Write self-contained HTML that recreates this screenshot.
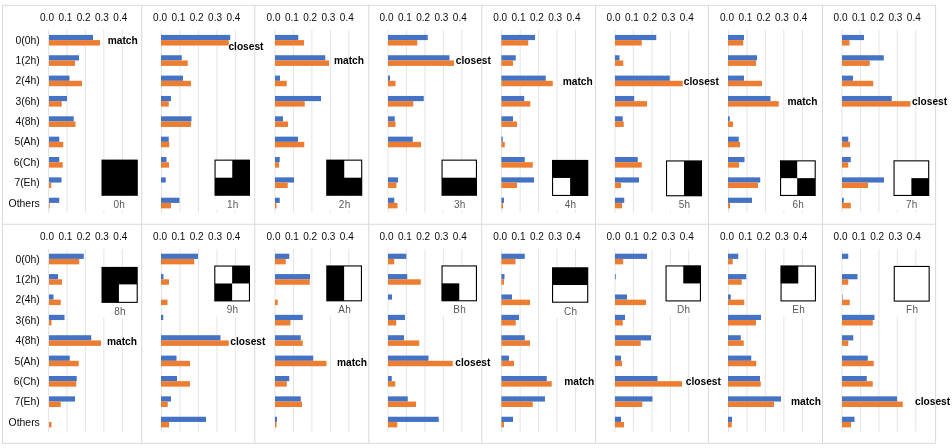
<!DOCTYPE html>
<html><head><meta charset="utf-8"><title>chart</title>
<style>
html,body{margin:0;padding:0;background:#fff;}
body{width:952px;height:448px;overflow:hidden;}
svg{display:block;font-family:"Liberation Sans",Arial,sans-serif;}
.ax{font-size:10px;fill:#0a0a0a;text-anchor:middle;}
.cat{font-size:10.4px;fill:#0a0a0a;text-anchor:end;}
.tl{font-size:10px;fill:#595959;text-anchor:middle;letter-spacing:0.3px;}
.ml{font-size:10.2px;font-weight:bold;fill:#000;}
</style></head><body>
<svg width="952" height="448" viewBox="0 0 952 448">
<rect x="0" y="0" width="952" height="448" fill="#fff"/>
<g fill="none" stroke="#D9D9D9" stroke-width="1">
<rect x="2.5" y="5.3" width="933.1" height="438.0"/>
<line x1="2.5" y1="224.25" x2="935.6" y2="224.25"/>
<line x1="141.75" y1="5.3" x2="141.75" y2="443.3"/>
<line x1="254.75" y1="5.3" x2="254.75" y2="443.3"/>
<line x1="368.75" y1="5.3" x2="368.75" y2="443.3"/>
<line x1="481.75" y1="5.3" x2="481.75" y2="443.3"/>
<line x1="595.5" y1="5.3" x2="595.5" y2="443.3"/>
<line x1="708.5" y1="5.3" x2="708.5" y2="443.3"/>
<line x1="822.5" y1="5.3" x2="822.5" y2="443.3"/>
</g>
<g>
<g stroke="#D9D9D9" stroke-width="0.7">
<line x1="48.50" y1="30.0" x2="48.50" y2="212.7"/>
<line x1="66.95" y1="30.0" x2="66.95" y2="212.7"/>
<line x1="85.40" y1="30.0" x2="85.40" y2="212.7"/>
<line x1="103.85" y1="30.0" x2="103.85" y2="212.7"/>
<line x1="122.30" y1="30.0" x2="122.30" y2="212.7"/>
</g>
<text class="ax" x="47.00" y="21.1">0.0</text>
<text class="ax" x="65.33" y="21.1">0.1</text>
<text class="ax" x="83.66" y="21.1">0.2</text>
<text class="ax" x="101.99" y="21.1">0.3</text>
<text class="ax" x="120.32" y="21.1">0.4</text>
<rect x="49.00" y="34.90" width="44.00" height="5.20" fill="#4472C4"/>
<rect x="49.00" y="40.10" width="51.00" height="5.45" fill="#ED7D31"/>
<rect x="49.00" y="55.25" width="30.00" height="5.20" fill="#4472C4"/>
<rect x="49.00" y="60.45" width="26.00" height="5.45" fill="#ED7D31"/>
<rect x="49.00" y="75.60" width="20.50" height="5.20" fill="#4472C4"/>
<rect x="49.00" y="80.80" width="33.00" height="5.45" fill="#ED7D31"/>
<rect x="49.00" y="95.95" width="18.00" height="5.20" fill="#4472C4"/>
<rect x="49.00" y="101.15" width="12.75" height="5.45" fill="#ED7D31"/>
<rect x="49.00" y="116.30" width="24.75" height="5.20" fill="#4472C4"/>
<rect x="49.00" y="121.50" width="26.50" height="5.45" fill="#ED7D31"/>
<rect x="49.00" y="136.65" width="10.25" height="5.20" fill="#4472C4"/>
<rect x="49.00" y="141.85" width="14.25" height="5.45" fill="#ED7D31"/>
<rect x="49.00" y="157.00" width="10.25" height="5.20" fill="#4472C4"/>
<rect x="49.00" y="162.20" width="13.75" height="5.45" fill="#ED7D31"/>
<rect x="49.00" y="177.35" width="12.50" height="5.20" fill="#4472C4"/>
<rect x="49.00" y="182.55" width="2.25" height="5.45" fill="#ED7D31"/>
<rect x="49.00" y="197.70" width="10.25" height="5.20" fill="#4472C4"/>
<rect x="49.00" y="202.90" width="0.75" height="5.45" fill="#ED7D31"/>
</g>
<g>
<g stroke="#D9D9D9" stroke-width="0.7">
<line x1="161.55" y1="30.0" x2="161.55" y2="212.7"/>
<line x1="180.00" y1="30.0" x2="180.00" y2="212.7"/>
<line x1="198.45" y1="30.0" x2="198.45" y2="212.7"/>
<line x1="216.90" y1="30.0" x2="216.90" y2="212.7"/>
<line x1="235.35" y1="30.0" x2="235.35" y2="212.7"/>
</g>
<text class="ax" x="160.05" y="21.1">0.0</text>
<text class="ax" x="178.38" y="21.1">0.1</text>
<text class="ax" x="196.71" y="21.1">0.2</text>
<text class="ax" x="215.04" y="21.1">0.3</text>
<text class="ax" x="233.37" y="21.1">0.4</text>
<rect x="161.00" y="34.90" width="69.25" height="5.20" fill="#4472C4"/>
<rect x="161.00" y="40.10" width="67.75" height="5.45" fill="#ED7D31"/>
<rect x="161.00" y="55.25" width="20.75" height="5.20" fill="#4472C4"/>
<rect x="161.00" y="60.45" width="26.75" height="5.45" fill="#ED7D31"/>
<rect x="161.00" y="75.60" width="22.00" height="5.20" fill="#4472C4"/>
<rect x="161.00" y="80.80" width="30.00" height="5.45" fill="#ED7D31"/>
<rect x="161.00" y="95.95" width="10.00" height="5.20" fill="#4472C4"/>
<rect x="161.00" y="101.15" width="7.75" height="5.45" fill="#ED7D31"/>
<rect x="161.00" y="116.30" width="30.50" height="5.20" fill="#4472C4"/>
<rect x="161.00" y="121.50" width="30.00" height="5.45" fill="#ED7D31"/>
<rect x="161.00" y="136.65" width="7.75" height="5.20" fill="#4472C4"/>
<rect x="161.00" y="141.85" width="8.25" height="5.45" fill="#ED7D31"/>
<rect x="161.00" y="157.00" width="5.50" height="5.20" fill="#4472C4"/>
<rect x="161.00" y="162.20" width="8.00" height="5.45" fill="#ED7D31"/>
<rect x="161.00" y="177.35" width="4.75" height="5.20" fill="#4472C4"/>
<rect x="161.00" y="197.70" width="18.50" height="5.20" fill="#4472C4"/>
<rect x="161.00" y="202.90" width="10.00" height="5.45" fill="#ED7D31"/>
</g>
<g>
<g stroke="#D9D9D9" stroke-width="0.7">
<line x1="275.00" y1="30.0" x2="275.00" y2="212.7"/>
<line x1="293.45" y1="30.0" x2="293.45" y2="212.7"/>
<line x1="311.90" y1="30.0" x2="311.90" y2="212.7"/>
<line x1="330.35" y1="30.0" x2="330.35" y2="212.7"/>
<line x1="348.80" y1="30.0" x2="348.80" y2="212.7"/>
</g>
<text class="ax" x="273.50" y="21.1">0.0</text>
<text class="ax" x="291.83" y="21.1">0.1</text>
<text class="ax" x="310.16" y="21.1">0.2</text>
<text class="ax" x="328.49" y="21.1">0.3</text>
<text class="ax" x="346.82" y="21.1">0.4</text>
<rect x="275.00" y="34.90" width="23.25" height="5.20" fill="#4472C4"/>
<rect x="275.00" y="40.10" width="29.00" height="5.45" fill="#ED7D31"/>
<rect x="275.00" y="55.25" width="50.25" height="5.20" fill="#4472C4"/>
<rect x="275.00" y="60.45" width="54.00" height="5.45" fill="#ED7D31"/>
<rect x="275.00" y="75.60" width="5.00" height="5.20" fill="#4472C4"/>
<rect x="275.00" y="80.80" width="11.75" height="5.45" fill="#ED7D31"/>
<rect x="275.00" y="95.95" width="46.00" height="5.20" fill="#4472C4"/>
<rect x="275.00" y="101.15" width="29.75" height="5.45" fill="#ED7D31"/>
<rect x="275.00" y="116.30" width="8.00" height="5.20" fill="#4472C4"/>
<rect x="275.00" y="121.50" width="13.00" height="5.45" fill="#ED7D31"/>
<rect x="275.00" y="136.65" width="23.00" height="5.20" fill="#4472C4"/>
<rect x="275.00" y="141.85" width="29.25" height="5.45" fill="#ED7D31"/>
<rect x="275.00" y="157.00" width="4.75" height="5.20" fill="#4472C4"/>
<rect x="275.00" y="162.20" width="4.00" height="5.45" fill="#ED7D31"/>
<rect x="275.00" y="177.35" width="19.00" height="5.20" fill="#4472C4"/>
<rect x="275.00" y="182.55" width="12.75" height="5.45" fill="#ED7D31"/>
<rect x="275.00" y="197.70" width="4.75" height="5.20" fill="#4472C4"/>
<rect x="275.00" y="202.90" width="1.50" height="5.45" fill="#ED7D31"/>
</g>
<g>
<g stroke="#D9D9D9" stroke-width="0.7">
<line x1="388.00" y1="30.0" x2="388.00" y2="212.7"/>
<line x1="406.45" y1="30.0" x2="406.45" y2="212.7"/>
<line x1="424.90" y1="30.0" x2="424.90" y2="212.7"/>
<line x1="443.35" y1="30.0" x2="443.35" y2="212.7"/>
<line x1="461.80" y1="30.0" x2="461.80" y2="212.7"/>
</g>
<text class="ax" x="386.50" y="21.1">0.0</text>
<text class="ax" x="404.83" y="21.1">0.1</text>
<text class="ax" x="423.16" y="21.1">0.2</text>
<text class="ax" x="441.49" y="21.1">0.3</text>
<text class="ax" x="459.82" y="21.1">0.4</text>
<rect x="388.00" y="34.90" width="39.75" height="5.20" fill="#4472C4"/>
<rect x="388.00" y="40.10" width="29.25" height="5.45" fill="#ED7D31"/>
<rect x="388.00" y="55.25" width="61.50" height="5.20" fill="#4472C4"/>
<rect x="388.00" y="60.45" width="66.00" height="5.45" fill="#ED7D31"/>
<rect x="388.00" y="75.60" width="2.00" height="5.20" fill="#4472C4"/>
<rect x="388.00" y="80.80" width="7.50" height="5.45" fill="#ED7D31"/>
<rect x="388.00" y="95.95" width="35.75" height="5.20" fill="#4472C4"/>
<rect x="388.00" y="101.15" width="25.25" height="5.45" fill="#ED7D31"/>
<rect x="388.00" y="116.30" width="6.75" height="5.20" fill="#4472C4"/>
<rect x="388.00" y="121.50" width="7.50" height="5.45" fill="#ED7D31"/>
<rect x="388.00" y="136.65" width="24.75" height="5.20" fill="#4472C4"/>
<rect x="388.00" y="141.85" width="33.00" height="5.45" fill="#ED7D31"/>
<rect x="388.00" y="177.35" width="10.00" height="5.20" fill="#4472C4"/>
<rect x="388.00" y="182.55" width="8.50" height="5.45" fill="#ED7D31"/>
<rect x="388.00" y="197.70" width="6.25" height="5.20" fill="#4472C4"/>
<rect x="388.00" y="202.90" width="9.50" height="5.45" fill="#ED7D31"/>
</g>
<g>
<g stroke="#D9D9D9" stroke-width="0.7">
<line x1="501.70" y1="30.0" x2="501.70" y2="212.7"/>
<line x1="520.15" y1="30.0" x2="520.15" y2="212.7"/>
<line x1="538.60" y1="30.0" x2="538.60" y2="212.7"/>
<line x1="557.05" y1="30.0" x2="557.05" y2="212.7"/>
<line x1="575.50" y1="30.0" x2="575.50" y2="212.7"/>
</g>
<text class="ax" x="500.20" y="21.1">0.0</text>
<text class="ax" x="518.53" y="21.1">0.1</text>
<text class="ax" x="536.86" y="21.1">0.2</text>
<text class="ax" x="555.19" y="21.1">0.3</text>
<text class="ax" x="573.52" y="21.1">0.4</text>
<rect x="501.40" y="34.90" width="33.60" height="5.20" fill="#4472C4"/>
<rect x="501.40" y="40.10" width="26.85" height="5.45" fill="#ED7D31"/>
<rect x="501.40" y="55.25" width="14.35" height="5.20" fill="#4472C4"/>
<rect x="501.40" y="60.45" width="11.60" height="5.45" fill="#ED7D31"/>
<rect x="501.40" y="75.60" width="44.35" height="5.20" fill="#4472C4"/>
<rect x="501.40" y="80.80" width="51.35" height="5.45" fill="#ED7D31"/>
<rect x="501.40" y="95.95" width="22.85" height="5.20" fill="#4472C4"/>
<rect x="501.40" y="101.15" width="28.85" height="5.45" fill="#ED7D31"/>
<rect x="501.40" y="116.30" width="11.60" height="5.20" fill="#4472C4"/>
<rect x="501.40" y="121.50" width="15.60" height="5.45" fill="#ED7D31"/>
<rect x="501.40" y="136.65" width="1.35" height="5.20" fill="#4472C4"/>
<rect x="501.40" y="141.85" width="3.35" height="5.45" fill="#ED7D31"/>
<rect x="501.40" y="157.00" width="23.35" height="5.20" fill="#4472C4"/>
<rect x="501.40" y="162.20" width="31.35" height="5.45" fill="#ED7D31"/>
<rect x="501.40" y="177.35" width="32.60" height="5.20" fill="#4472C4"/>
<rect x="501.40" y="182.55" width="15.60" height="5.45" fill="#ED7D31"/>
<rect x="501.40" y="197.70" width="2.60" height="5.20" fill="#4472C4"/>
<rect x="501.40" y="202.90" width="1.60" height="5.45" fill="#ED7D31"/>
</g>
<g>
<g stroke="#D9D9D9" stroke-width="0.7">
<line x1="615.00" y1="30.0" x2="615.00" y2="212.7"/>
<line x1="633.45" y1="30.0" x2="633.45" y2="212.7"/>
<line x1="651.90" y1="30.0" x2="651.90" y2="212.7"/>
<line x1="670.35" y1="30.0" x2="670.35" y2="212.7"/>
<line x1="688.80" y1="30.0" x2="688.80" y2="212.7"/>
</g>
<text class="ax" x="613.50" y="21.1">0.0</text>
<text class="ax" x="631.83" y="21.1">0.1</text>
<text class="ax" x="650.16" y="21.1">0.2</text>
<text class="ax" x="668.49" y="21.1">0.3</text>
<text class="ax" x="686.82" y="21.1">0.4</text>
<rect x="615.00" y="34.90" width="41.25" height="5.20" fill="#4472C4"/>
<rect x="615.00" y="40.10" width="26.75" height="5.45" fill="#ED7D31"/>
<rect x="615.00" y="55.25" width="4.50" height="5.20" fill="#4472C4"/>
<rect x="615.00" y="60.45" width="8.25" height="5.45" fill="#ED7D31"/>
<rect x="615.00" y="75.60" width="54.75" height="5.20" fill="#4472C4"/>
<rect x="615.00" y="80.80" width="67.75" height="5.45" fill="#ED7D31"/>
<rect x="615.00" y="95.95" width="19.25" height="5.20" fill="#4472C4"/>
<rect x="615.00" y="101.15" width="32.00" height="5.45" fill="#ED7D31"/>
<rect x="615.00" y="116.30" width="7.75" height="5.20" fill="#4472C4"/>
<rect x="615.00" y="121.50" width="8.75" height="5.45" fill="#ED7D31"/>
<rect x="615.00" y="157.00" width="22.75" height="5.20" fill="#4472C4"/>
<rect x="615.00" y="162.20" width="26.75" height="5.45" fill="#ED7D31"/>
<rect x="615.00" y="177.35" width="24.00" height="5.20" fill="#4472C4"/>
<rect x="615.00" y="182.55" width="6.00" height="5.45" fill="#ED7D31"/>
<rect x="615.00" y="197.70" width="9.25" height="5.20" fill="#4472C4"/>
<rect x="615.00" y="202.90" width="7.00" height="5.45" fill="#ED7D31"/>
</g>
<g>
<g stroke="#D9D9D9" stroke-width="0.7">
<line x1="728.50" y1="30.0" x2="728.50" y2="212.7"/>
<line x1="746.95" y1="30.0" x2="746.95" y2="212.7"/>
<line x1="765.40" y1="30.0" x2="765.40" y2="212.7"/>
<line x1="783.85" y1="30.0" x2="783.85" y2="212.7"/>
<line x1="802.30" y1="30.0" x2="802.30" y2="212.7"/>
</g>
<text class="ax" x="727.00" y="21.1">0.0</text>
<text class="ax" x="745.33" y="21.1">0.1</text>
<text class="ax" x="763.66" y="21.1">0.2</text>
<text class="ax" x="781.99" y="21.1">0.3</text>
<text class="ax" x="800.32" y="21.1">0.4</text>
<rect x="728.00" y="34.90" width="16.00" height="5.20" fill="#4472C4"/>
<rect x="728.00" y="40.10" width="15.25" height="5.45" fill="#ED7D31"/>
<rect x="728.00" y="55.25" width="29.00" height="5.20" fill="#4472C4"/>
<rect x="728.00" y="60.45" width="28.00" height="5.45" fill="#ED7D31"/>
<rect x="728.00" y="75.60" width="16.00" height="5.20" fill="#4472C4"/>
<rect x="728.00" y="80.80" width="34.00" height="5.45" fill="#ED7D31"/>
<rect x="728.00" y="95.95" width="42.50" height="5.20" fill="#4472C4"/>
<rect x="728.00" y="101.15" width="50.75" height="5.45" fill="#ED7D31"/>
<rect x="728.00" y="116.30" width="1.75" height="5.20" fill="#4472C4"/>
<rect x="728.00" y="121.50" width="5.00" height="5.45" fill="#ED7D31"/>
<rect x="728.00" y="136.65" width="10.75" height="5.20" fill="#4472C4"/>
<rect x="728.00" y="141.85" width="12.00" height="5.45" fill="#ED7D31"/>
<rect x="728.00" y="157.00" width="16.50" height="5.20" fill="#4472C4"/>
<rect x="728.00" y="162.20" width="11.00" height="5.45" fill="#ED7D31"/>
<rect x="728.00" y="177.35" width="32.25" height="5.20" fill="#4472C4"/>
<rect x="728.00" y="182.55" width="30.00" height="5.45" fill="#ED7D31"/>
<rect x="728.00" y="197.70" width="24.00" height="5.20" fill="#4472C4"/>
<rect x="728.00" y="202.90" width="2.00" height="5.45" fill="#ED7D31"/>
</g>
<g>
<g stroke="#D9D9D9" stroke-width="0.7">
<line x1="842.00" y1="30.0" x2="842.00" y2="212.7"/>
<line x1="860.45" y1="30.0" x2="860.45" y2="212.7"/>
<line x1="878.90" y1="30.0" x2="878.90" y2="212.7"/>
<line x1="897.35" y1="30.0" x2="897.35" y2="212.7"/>
<line x1="915.80" y1="30.0" x2="915.80" y2="212.7"/>
</g>
<text class="ax" x="840.50" y="21.1">0.0</text>
<text class="ax" x="858.83" y="21.1">0.1</text>
<text class="ax" x="877.16" y="21.1">0.2</text>
<text class="ax" x="895.49" y="21.1">0.3</text>
<text class="ax" x="913.82" y="21.1">0.4</text>
<rect x="842.00" y="34.90" width="22.00" height="5.20" fill="#4472C4"/>
<rect x="842.00" y="40.10" width="7.50" height="5.45" fill="#ED7D31"/>
<rect x="842.00" y="55.25" width="41.75" height="5.20" fill="#4472C4"/>
<rect x="842.00" y="60.45" width="27.75" height="5.45" fill="#ED7D31"/>
<rect x="842.00" y="75.60" width="11.00" height="5.20" fill="#4472C4"/>
<rect x="842.00" y="80.80" width="31.25" height="5.45" fill="#ED7D31"/>
<rect x="842.00" y="95.95" width="49.75" height="5.20" fill="#4472C4"/>
<rect x="842.00" y="101.15" width="68.50" height="5.45" fill="#ED7D31"/>
<rect x="842.00" y="136.65" width="6.25" height="5.20" fill="#4472C4"/>
<rect x="842.00" y="141.85" width="8.00" height="5.45" fill="#ED7D31"/>
<rect x="842.00" y="157.00" width="8.75" height="5.20" fill="#4472C4"/>
<rect x="842.00" y="162.20" width="6.25" height="5.45" fill="#ED7D31"/>
<rect x="842.00" y="177.35" width="42.00" height="5.20" fill="#4472C4"/>
<rect x="842.00" y="182.55" width="26.00" height="5.45" fill="#ED7D31"/>
<rect x="842.00" y="197.70" width="1.75" height="5.20" fill="#4472C4"/>
<rect x="842.00" y="202.90" width="8.80" height="5.45" fill="#ED7D31"/>
</g>
<g>
<g stroke="#D9D9D9" stroke-width="0.7">
<line x1="48.50" y1="249.0" x2="48.50" y2="431.8"/>
<line x1="66.95" y1="249.0" x2="66.95" y2="431.8"/>
<line x1="85.40" y1="249.0" x2="85.40" y2="431.8"/>
<line x1="103.85" y1="249.0" x2="103.85" y2="431.8"/>
<line x1="122.30" y1="249.0" x2="122.30" y2="431.8"/>
</g>
<text class="ax" x="47.00" y="240.4">0.0</text>
<text class="ax" x="65.33" y="240.4">0.1</text>
<text class="ax" x="83.66" y="240.4">0.2</text>
<text class="ax" x="101.99" y="240.4">0.3</text>
<text class="ax" x="120.32" y="240.4">0.4</text>
<rect x="49.00" y="253.70" width="34.75" height="5.20" fill="#4472C4"/>
<rect x="49.00" y="258.90" width="30.25" height="5.45" fill="#ED7D31"/>
<rect x="49.00" y="274.08" width="9.00" height="5.20" fill="#4472C4"/>
<rect x="49.00" y="279.28" width="13.00" height="5.45" fill="#ED7D31"/>
<rect x="49.00" y="294.46" width="4.50" height="5.20" fill="#4472C4"/>
<rect x="49.00" y="299.66" width="11.75" height="5.45" fill="#ED7D31"/>
<rect x="49.00" y="314.84" width="15.50" height="5.20" fill="#4472C4"/>
<rect x="49.00" y="320.04" width="2.50" height="5.45" fill="#ED7D31"/>
<rect x="49.00" y="335.22" width="42.25" height="5.20" fill="#4472C4"/>
<rect x="49.00" y="340.42" width="52.00" height="5.45" fill="#ED7D31"/>
<rect x="49.00" y="355.60" width="20.75" height="5.20" fill="#4472C4"/>
<rect x="49.00" y="360.80" width="29.75" height="5.45" fill="#ED7D31"/>
<rect x="49.00" y="375.98" width="27.75" height="5.20" fill="#4472C4"/>
<rect x="49.00" y="381.18" width="27.25" height="5.45" fill="#ED7D31"/>
<rect x="49.00" y="396.36" width="26.00" height="5.20" fill="#4472C4"/>
<rect x="49.00" y="401.56" width="11.75" height="5.45" fill="#ED7D31"/>
<rect x="49.00" y="421.94" width="2.50" height="5.45" fill="#ED7D31"/>
</g>
<g>
<g stroke="#D9D9D9" stroke-width="0.7">
<line x1="161.55" y1="249.0" x2="161.55" y2="431.8"/>
<line x1="180.00" y1="249.0" x2="180.00" y2="431.8"/>
<line x1="198.45" y1="249.0" x2="198.45" y2="431.8"/>
<line x1="216.90" y1="249.0" x2="216.90" y2="431.8"/>
<line x1="235.35" y1="249.0" x2="235.35" y2="431.8"/>
</g>
<text class="ax" x="160.05" y="240.4">0.0</text>
<text class="ax" x="178.38" y="240.4">0.1</text>
<text class="ax" x="196.71" y="240.4">0.2</text>
<text class="ax" x="215.04" y="240.4">0.3</text>
<text class="ax" x="233.37" y="240.4">0.4</text>
<rect x="161.00" y="253.70" width="37.00" height="5.20" fill="#4472C4"/>
<rect x="161.00" y="258.90" width="33.25" height="5.45" fill="#ED7D31"/>
<rect x="161.00" y="274.08" width="2.50" height="5.20" fill="#4472C4"/>
<rect x="161.00" y="279.28" width="8.00" height="5.45" fill="#ED7D31"/>
<rect x="161.00" y="299.66" width="6.50" height="5.45" fill="#ED7D31"/>
<rect x="161.00" y="314.84" width="2.25" height="5.20" fill="#4472C4"/>
<rect x="161.00" y="335.22" width="59.50" height="5.20" fill="#4472C4"/>
<rect x="161.00" y="340.42" width="67.75" height="5.45" fill="#ED7D31"/>
<rect x="161.00" y="355.60" width="15.50" height="5.20" fill="#4472C4"/>
<rect x="161.00" y="360.80" width="29.00" height="5.45" fill="#ED7D31"/>
<rect x="161.00" y="375.98" width="16.00" height="5.20" fill="#4472C4"/>
<rect x="161.00" y="381.18" width="29.00" height="5.45" fill="#ED7D31"/>
<rect x="161.00" y="396.36" width="10.00" height="5.20" fill="#4472C4"/>
<rect x="161.00" y="401.56" width="6.75" height="5.45" fill="#ED7D31"/>
<rect x="161.00" y="416.74" width="45.00" height="5.20" fill="#4472C4"/>
<rect x="161.00" y="421.94" width="8.00" height="5.45" fill="#ED7D31"/>
</g>
<g>
<g stroke="#D9D9D9" stroke-width="0.7">
<line x1="275.00" y1="249.0" x2="275.00" y2="431.8"/>
<line x1="293.45" y1="249.0" x2="293.45" y2="431.8"/>
<line x1="311.90" y1="249.0" x2="311.90" y2="431.8"/>
<line x1="330.35" y1="249.0" x2="330.35" y2="431.8"/>
<line x1="348.80" y1="249.0" x2="348.80" y2="431.8"/>
</g>
<text class="ax" x="273.50" y="240.4">0.0</text>
<text class="ax" x="291.83" y="240.4">0.1</text>
<text class="ax" x="310.16" y="240.4">0.2</text>
<text class="ax" x="328.49" y="240.4">0.3</text>
<text class="ax" x="346.82" y="240.4">0.4</text>
<rect x="275.00" y="253.70" width="14.25" height="5.20" fill="#4472C4"/>
<rect x="275.00" y="258.90" width="10.75" height="5.45" fill="#ED7D31"/>
<rect x="275.00" y="274.08" width="35.00" height="5.20" fill="#4472C4"/>
<rect x="275.00" y="279.28" width="34.75" height="5.45" fill="#ED7D31"/>
<rect x="275.00" y="299.66" width="2.75" height="5.45" fill="#ED7D31"/>
<rect x="275.00" y="314.84" width="27.75" height="5.20" fill="#4472C4"/>
<rect x="275.00" y="320.04" width="15.50" height="5.45" fill="#ED7D31"/>
<rect x="275.00" y="335.22" width="25.75" height="5.20" fill="#4472C4"/>
<rect x="275.00" y="340.42" width="27.75" height="5.45" fill="#ED7D31"/>
<rect x="275.00" y="355.60" width="38.25" height="5.20" fill="#4472C4"/>
<rect x="275.00" y="360.80" width="51.50" height="5.45" fill="#ED7D31"/>
<rect x="275.00" y="375.98" width="14.25" height="5.20" fill="#4472C4"/>
<rect x="275.00" y="381.18" width="11.75" height="5.45" fill="#ED7D31"/>
<rect x="275.00" y="396.36" width="25.75" height="5.20" fill="#4472C4"/>
<rect x="275.00" y="401.56" width="27.00" height="5.45" fill="#ED7D31"/>
<rect x="275.00" y="416.74" width="2.00" height="5.20" fill="#4472C4"/>
<rect x="275.00" y="421.94" width="1.50" height="5.45" fill="#ED7D31"/>
</g>
<g>
<g stroke="#D9D9D9" stroke-width="0.7">
<line x1="388.00" y1="249.0" x2="388.00" y2="431.8"/>
<line x1="406.45" y1="249.0" x2="406.45" y2="431.8"/>
<line x1="424.90" y1="249.0" x2="424.90" y2="431.8"/>
<line x1="443.35" y1="249.0" x2="443.35" y2="431.8"/>
<line x1="461.80" y1="249.0" x2="461.80" y2="431.8"/>
</g>
<text class="ax" x="386.50" y="240.4">0.0</text>
<text class="ax" x="404.83" y="240.4">0.1</text>
<text class="ax" x="423.16" y="240.4">0.2</text>
<text class="ax" x="441.49" y="240.4">0.3</text>
<text class="ax" x="459.82" y="240.4">0.4</text>
<rect x="388.00" y="253.70" width="18.25" height="5.20" fill="#4472C4"/>
<rect x="388.00" y="258.90" width="6.25" height="5.45" fill="#ED7D31"/>
<rect x="388.00" y="274.08" width="19.25" height="5.20" fill="#4472C4"/>
<rect x="388.00" y="279.28" width="32.75" height="5.45" fill="#ED7D31"/>
<rect x="388.00" y="294.46" width="4.00" height="5.20" fill="#4472C4"/>
<rect x="388.00" y="314.84" width="17.00" height="5.20" fill="#4472C4"/>
<rect x="388.00" y="320.04" width="8.25" height="5.45" fill="#ED7D31"/>
<rect x="388.00" y="335.22" width="16.00" height="5.20" fill="#4472C4"/>
<rect x="388.00" y="340.42" width="31.25" height="5.45" fill="#ED7D31"/>
<rect x="388.00" y="355.60" width="40.50" height="5.20" fill="#4472C4"/>
<rect x="388.00" y="360.80" width="64.75" height="5.45" fill="#ED7D31"/>
<rect x="388.00" y="375.98" width="3.75" height="5.20" fill="#4472C4"/>
<rect x="388.00" y="381.18" width="7.25" height="5.45" fill="#ED7D31"/>
<rect x="388.00" y="396.36" width="19.75" height="5.20" fill="#4472C4"/>
<rect x="388.00" y="401.56" width="28.00" height="5.45" fill="#ED7D31"/>
<rect x="388.00" y="416.74" width="50.75" height="5.20" fill="#4472C4"/>
<rect x="388.00" y="421.94" width="9.25" height="5.45" fill="#ED7D31"/>
</g>
<g>
<g stroke="#D9D9D9" stroke-width="0.7">
<line x1="501.70" y1="249.0" x2="501.70" y2="431.8"/>
<line x1="520.15" y1="249.0" x2="520.15" y2="431.8"/>
<line x1="538.60" y1="249.0" x2="538.60" y2="431.8"/>
<line x1="557.05" y1="249.0" x2="557.05" y2="431.8"/>
<line x1="575.50" y1="249.0" x2="575.50" y2="431.8"/>
</g>
<text class="ax" x="500.20" y="240.4">0.0</text>
<text class="ax" x="518.53" y="240.4">0.1</text>
<text class="ax" x="536.86" y="240.4">0.2</text>
<text class="ax" x="555.19" y="240.4">0.3</text>
<text class="ax" x="573.52" y="240.4">0.4</text>
<rect x="501.40" y="253.70" width="23.35" height="5.20" fill="#4472C4"/>
<rect x="501.40" y="258.90" width="14.10" height="5.45" fill="#ED7D31"/>
<rect x="501.40" y="274.08" width="3.10" height="5.20" fill="#4472C4"/>
<rect x="501.40" y="279.28" width="2.60" height="5.45" fill="#ED7D31"/>
<rect x="501.40" y="294.46" width="10.60" height="5.20" fill="#4472C4"/>
<rect x="501.40" y="299.66" width="28.60" height="5.45" fill="#ED7D31"/>
<rect x="501.40" y="314.84" width="17.60" height="5.20" fill="#4472C4"/>
<rect x="501.40" y="320.04" width="14.35" height="5.45" fill="#ED7D31"/>
<rect x="501.40" y="335.22" width="23.35" height="5.20" fill="#4472C4"/>
<rect x="501.40" y="340.42" width="28.60" height="5.45" fill="#ED7D31"/>
<rect x="501.40" y="355.60" width="7.60" height="5.20" fill="#4472C4"/>
<rect x="501.40" y="360.80" width="12.60" height="5.45" fill="#ED7D31"/>
<rect x="501.40" y="375.98" width="45.35" height="5.20" fill="#4472C4"/>
<rect x="501.40" y="381.18" width="50.35" height="5.45" fill="#ED7D31"/>
<rect x="501.40" y="396.36" width="43.60" height="5.20" fill="#4472C4"/>
<rect x="501.40" y="401.56" width="31.35" height="5.45" fill="#ED7D31"/>
<rect x="501.40" y="416.74" width="11.60" height="5.20" fill="#4472C4"/>
<rect x="501.40" y="421.94" width="2.60" height="5.45" fill="#ED7D31"/>
</g>
<g>
<g stroke="#D9D9D9" stroke-width="0.7">
<line x1="615.00" y1="249.0" x2="615.00" y2="431.8"/>
<line x1="633.45" y1="249.0" x2="633.45" y2="431.8"/>
<line x1="651.90" y1="249.0" x2="651.90" y2="431.8"/>
<line x1="670.35" y1="249.0" x2="670.35" y2="431.8"/>
<line x1="688.80" y1="249.0" x2="688.80" y2="431.8"/>
</g>
<text class="ax" x="613.50" y="240.4">0.0</text>
<text class="ax" x="631.83" y="240.4">0.1</text>
<text class="ax" x="650.16" y="240.4">0.2</text>
<text class="ax" x="668.49" y="240.4">0.3</text>
<text class="ax" x="686.82" y="240.4">0.4</text>
<rect x="615.00" y="253.70" width="32.00" height="5.20" fill="#4472C4"/>
<rect x="615.00" y="258.90" width="8.25" height="5.45" fill="#ED7D31"/>
<rect x="615.00" y="274.08" width="0.75" height="5.20" fill="#4472C4"/>
<rect x="615.00" y="294.46" width="12.00" height="5.20" fill="#4472C4"/>
<rect x="615.00" y="299.66" width="31.00" height="5.45" fill="#ED7D31"/>
<rect x="615.00" y="314.84" width="10.00" height="5.20" fill="#4472C4"/>
<rect x="615.00" y="320.04" width="7.75" height="5.45" fill="#ED7D31"/>
<rect x="615.00" y="335.22" width="36.00" height="5.20" fill="#4472C4"/>
<rect x="615.00" y="340.42" width="25.75" height="5.45" fill="#ED7D31"/>
<rect x="615.00" y="355.60" width="6.00" height="5.20" fill="#4472C4"/>
<rect x="615.00" y="360.80" width="7.00" height="5.45" fill="#ED7D31"/>
<rect x="615.00" y="375.98" width="42.50" height="5.20" fill="#4472C4"/>
<rect x="615.00" y="381.18" width="67.00" height="5.45" fill="#ED7D31"/>
<rect x="615.00" y="396.36" width="37.50" height="5.20" fill="#4472C4"/>
<rect x="615.00" y="401.56" width="27.25" height="5.45" fill="#ED7D31"/>
<rect x="615.00" y="416.74" width="6.00" height="5.20" fill="#4472C4"/>
<rect x="615.00" y="421.94" width="9.00" height="5.45" fill="#ED7D31"/>
</g>
<g>
<g stroke="#D9D9D9" stroke-width="0.7">
<line x1="728.50" y1="249.0" x2="728.50" y2="431.8"/>
<line x1="746.95" y1="249.0" x2="746.95" y2="431.8"/>
<line x1="765.40" y1="249.0" x2="765.40" y2="431.8"/>
<line x1="783.85" y1="249.0" x2="783.85" y2="431.8"/>
<line x1="802.30" y1="249.0" x2="802.30" y2="431.8"/>
</g>
<text class="ax" x="727.00" y="240.4">0.0</text>
<text class="ax" x="745.33" y="240.4">0.1</text>
<text class="ax" x="763.66" y="240.4">0.2</text>
<text class="ax" x="781.99" y="240.4">0.3</text>
<text class="ax" x="800.32" y="240.4">0.4</text>
<rect x="728.00" y="253.70" width="10.25" height="5.20" fill="#4472C4"/>
<rect x="728.00" y="258.90" width="4.75" height="5.45" fill="#ED7D31"/>
<rect x="728.00" y="274.08" width="18.25" height="5.20" fill="#4472C4"/>
<rect x="728.00" y="279.28" width="13.75" height="5.45" fill="#ED7D31"/>
<rect x="728.00" y="294.46" width="2.75" height="5.20" fill="#4472C4"/>
<rect x="728.00" y="299.66" width="16.25" height="5.45" fill="#ED7D31"/>
<rect x="728.00" y="314.84" width="33.00" height="5.20" fill="#4472C4"/>
<rect x="728.00" y="320.04" width="28.00" height="5.45" fill="#ED7D31"/>
<rect x="728.00" y="335.22" width="12.75" height="5.20" fill="#4472C4"/>
<rect x="728.00" y="340.42" width="15.75" height="5.45" fill="#ED7D31"/>
<rect x="728.00" y="355.60" width="23.25" height="5.20" fill="#4472C4"/>
<rect x="728.00" y="360.80" width="28.25" height="5.45" fill="#ED7D31"/>
<rect x="728.00" y="375.98" width="32.00" height="5.20" fill="#4472C4"/>
<rect x="728.00" y="381.18" width="32.75" height="5.45" fill="#ED7D31"/>
<rect x="728.00" y="396.36" width="53.00" height="5.20" fill="#4472C4"/>
<rect x="728.00" y="401.56" width="46.00" height="5.45" fill="#ED7D31"/>
<rect x="728.00" y="416.74" width="4.00" height="5.20" fill="#4472C4"/>
<rect x="728.00" y="421.94" width="3.75" height="5.45" fill="#ED7D31"/>
</g>
<g>
<g stroke="#D9D9D9" stroke-width="0.7">
<line x1="842.00" y1="249.0" x2="842.00" y2="431.8"/>
<line x1="860.45" y1="249.0" x2="860.45" y2="431.8"/>
<line x1="878.90" y1="249.0" x2="878.90" y2="431.8"/>
<line x1="897.35" y1="249.0" x2="897.35" y2="431.8"/>
<line x1="915.80" y1="249.0" x2="915.80" y2="431.8"/>
</g>
<text class="ax" x="840.50" y="240.4">0.0</text>
<text class="ax" x="858.83" y="240.4">0.1</text>
<text class="ax" x="877.16" y="240.4">0.2</text>
<text class="ax" x="895.49" y="240.4">0.3</text>
<text class="ax" x="913.82" y="240.4">0.4</text>
<rect x="842.00" y="253.70" width="6.25" height="5.20" fill="#4472C4"/>
<rect x="842.00" y="274.08" width="15.50" height="5.20" fill="#4472C4"/>
<rect x="842.00" y="279.28" width="6.25" height="5.45" fill="#ED7D31"/>
<rect x="842.00" y="294.46" width="0.50" height="5.20" fill="#4472C4"/>
<rect x="842.00" y="299.66" width="7.75" height="5.45" fill="#ED7D31"/>
<rect x="842.00" y="314.84" width="32.50" height="5.20" fill="#4472C4"/>
<rect x="842.00" y="320.04" width="30.75" height="5.45" fill="#ED7D31"/>
<rect x="842.00" y="335.22" width="11.25" height="5.20" fill="#4472C4"/>
<rect x="842.00" y="340.42" width="6.25" height="5.45" fill="#ED7D31"/>
<rect x="842.00" y="355.60" width="25.75" height="5.20" fill="#4472C4"/>
<rect x="842.00" y="360.80" width="31.75" height="5.45" fill="#ED7D31"/>
<rect x="842.00" y="375.98" width="24.75" height="5.20" fill="#4472C4"/>
<rect x="842.00" y="381.18" width="30.75" height="5.45" fill="#ED7D31"/>
<rect x="842.00" y="396.36" width="55.00" height="5.20" fill="#4472C4"/>
<rect x="842.00" y="401.56" width="60.75" height="5.45" fill="#ED7D31"/>
<rect x="842.00" y="416.74" width="12.50" height="5.20" fill="#4472C4"/>
<rect x="842.00" y="421.94" width="9.00" height="5.45" fill="#ED7D31"/>
</g>
<text class="cat" x="39.8" y="43.70">0(0h)</text>
<text class="cat" x="39.8" y="64.05">1(2h)</text>
<text class="cat" x="39.8" y="84.40">2(4h)</text>
<text class="cat" x="39.8" y="104.75">3(6h)</text>
<text class="cat" x="39.8" y="125.10">4(8h)</text>
<text class="cat" x="39.8" y="145.45">5(Ah)</text>
<text class="cat" x="39.8" y="165.80">6(Ch)</text>
<text class="cat" x="39.8" y="186.15">7(Eh)</text>
<text class="cat" x="39.8" y="206.50">Others</text>
<text class="cat" x="39.8" y="262.70">0(0h)</text>
<text class="cat" x="39.8" y="283.08">1(2h)</text>
<text class="cat" x="39.8" y="303.46">2(4h)</text>
<text class="cat" x="39.8" y="323.84">3(6h)</text>
<text class="cat" x="39.8" y="344.22">4(8h)</text>
<text class="cat" x="39.8" y="364.60">5(Ah)</text>
<text class="cat" x="39.8" y="384.98">6(Ch)</text>
<text class="cat" x="39.8" y="405.36">7(Eh)</text>
<text class="cat" x="39.8" y="425.74">Others</text>
<rect x="100.50" y="195.80" width="38.30" height="14.0" fill="#fff"/>
<rect x="101.50" y="159.60" width="36.30" height="36.20" fill="#000"/>
<text class="tl" x="119.35" y="207.95">0h</text>
<rect x="213.50" y="195.80" width="37.50" height="14.0" fill="#fff"/>
<rect x="214.50" y="159.60" width="35.50" height="36.20" fill="#000"/>
<rect x="215.60" y="160.70" width="16.65" height="17.00" fill="#fff"/>
<text class="tl" x="232.75" y="207.95">1h</text>
<rect x="325.20" y="195.80" width="38.05" height="14.0" fill="#fff"/>
<rect x="326.20" y="159.60" width="36.05" height="36.20" fill="#000"/>
<rect x="344.23" y="160.70" width="16.92" height="17.00" fill="#fff"/>
<text class="tl" x="344.73" y="207.95">2h</text>
<rect x="440.50" y="195.80" width="37.50" height="14.0" fill="#fff"/>
<rect x="441.50" y="159.60" width="35.50" height="36.20" fill="#000"/>
<rect x="442.60" y="160.70" width="33.30" height="17.00" fill="#fff"/>
<text class="tl" x="459.75" y="207.95">3h</text>
<rect x="551.00" y="196.00" width="38.25" height="14.0" fill="#fff"/>
<rect x="552.00" y="159.90" width="36.25" height="36.10" fill="#000"/>
<rect x="553.10" y="177.95" width="17.02" height="16.95" fill="#fff"/>
<text class="tl" x="570.62" y="207.95">4h</text>
<rect x="665.00" y="196.30" width="38.00" height="14.0" fill="#fff"/>
<rect x="666.00" y="160.40" width="36.00" height="35.90" fill="#000"/>
<rect x="667.10" y="161.50" width="16.90" height="33.70" fill="#fff"/>
<text class="tl" x="684.50" y="207.95">5h</text>
<rect x="779.00" y="196.00" width="37.75" height="14.0" fill="#fff"/>
<rect x="780.00" y="160.30" width="35.75" height="35.70" fill="#000"/>
<rect x="781.10" y="178.15" width="16.07" height="16.75" fill="#fff"/>
<rect x="797.17" y="161.40" width="17.48" height="16.75" fill="#fff"/>
<text class="tl" x="798.38" y="207.95">6h</text>
<rect x="892.50" y="196.00" width="37.75" height="14.0" fill="#fff"/>
<rect x="893.50" y="160.30" width="35.75" height="35.70" fill="#000"/>
<rect x="894.60" y="161.40" width="33.55" height="33.50" fill="#fff"/>
<rect x="911.38" y="178.15" width="17.58" height="17.55" fill="#000"/>
<text class="tl" x="911.88" y="207.95">7h</text>
<rect x="100.50" y="302.90" width="38.25" height="15.0" fill="#fff"/>
<rect x="101.50" y="266.90" width="36.25" height="36.00" fill="#000"/>
<rect x="118.92" y="284.40" width="17.73" height="17.40" fill="#fff"/>
<text class="tl" x="120.12" y="315.20">8h</text>
<rect x="213.25" y="301.45" width="37.75" height="15.0" fill="#fff"/>
<rect x="214.25" y="265.50" width="35.75" height="35.95" fill="#000"/>
<rect x="232.12" y="283.48" width="16.78" height="16.87" fill="#fff"/>
<rect x="215.35" y="266.60" width="16.78" height="16.88" fill="#fff"/>
<text class="tl" x="232.62" y="312.90">9h</text>
<rect x="325.25" y="301.35" width="37.75" height="15.0" fill="#fff"/>
<rect x="326.25" y="265.40" width="35.75" height="35.95" fill="#000"/>
<rect x="344.12" y="266.50" width="16.77" height="33.75" fill="#fff"/>
<text class="tl" x="344.62" y="312.80">Ah</text>
<rect x="440.50" y="301.30" width="37.50" height="15.0" fill="#fff"/>
<rect x="441.50" y="265.40" width="35.50" height="35.90" fill="#000"/>
<rect x="442.60" y="266.50" width="33.30" height="33.70" fill="#fff"/>
<rect x="441.80" y="283.35" width="17.45" height="17.65" fill="#000"/>
<text class="tl" x="459.75" y="312.80">Bh</text>
<rect x="551.00" y="302.75" width="38.25" height="15.0" fill="#fff"/>
<rect x="552.00" y="267.25" width="36.25" height="35.50" fill="#000"/>
<rect x="553.10" y="285.00" width="34.05" height="16.65" fill="#fff"/>
<text class="tl" x="570.62" y="315.20">Ch</text>
<rect x="664.50" y="301.45" width="37.50" height="15.0" fill="#fff"/>
<rect x="665.50" y="265.40" width="35.50" height="36.05" fill="#000"/>
<rect x="666.60" y="266.50" width="33.30" height="33.85" fill="#fff"/>
<rect x="683.25" y="265.70" width="17.45" height="17.72" fill="#000"/>
<text class="tl" x="683.75" y="313.00">Dh</text>
<rect x="779.50" y="301.45" width="37.50" height="15.0" fill="#fff"/>
<rect x="780.50" y="265.50" width="35.50" height="35.95" fill="#000"/>
<rect x="781.60" y="266.60" width="33.30" height="33.75" fill="#fff"/>
<rect x="780.80" y="265.80" width="17.45" height="17.68" fill="#000"/>
<text class="tl" x="798.75" y="312.80">Eh</text>
<rect x="892.70" y="301.65" width="38.00" height="15.0" fill="#fff"/>
<rect x="893.70" y="265.90" width="36.00" height="35.75" fill="#000"/>
<rect x="894.80" y="267.00" width="33.80" height="33.55" fill="#fff"/>
<text class="tl" x="912.20" y="313.00">Fh</text>
<text class="ml" x="107.75" y="44.20">match</text>
<text class="ml" x="228.40" y="49.60">closest</text>
<text class="ml" x="334.00" y="63.80">match</text>
<text class="ml" x="455.75" y="63.80">closest</text>
<text class="ml" x="562.75" y="84.60">match</text>
<text class="ml" x="683.75" y="84.60">closest</text>
<text class="ml" x="787.50" y="105.40">match</text>
<text class="ml" x="912.00" y="105.30">closest</text>
<text class="ml" x="107.00" y="344.85">match</text>
<text class="ml" x="230.25" y="344.90">closest</text>
<text class="ml" x="337.00" y="365.90">match</text>
<text class="ml" x="455.30" y="365.60">closest</text>
<text class="ml" x="564.25" y="385.35">match</text>
<text class="ml" x="685.75" y="385.00">closest</text>
<text class="ml" x="791.00" y="405.35">match</text>
<text class="ml" x="915.00" y="405.35">closest</text>
</svg>
</body></html>
